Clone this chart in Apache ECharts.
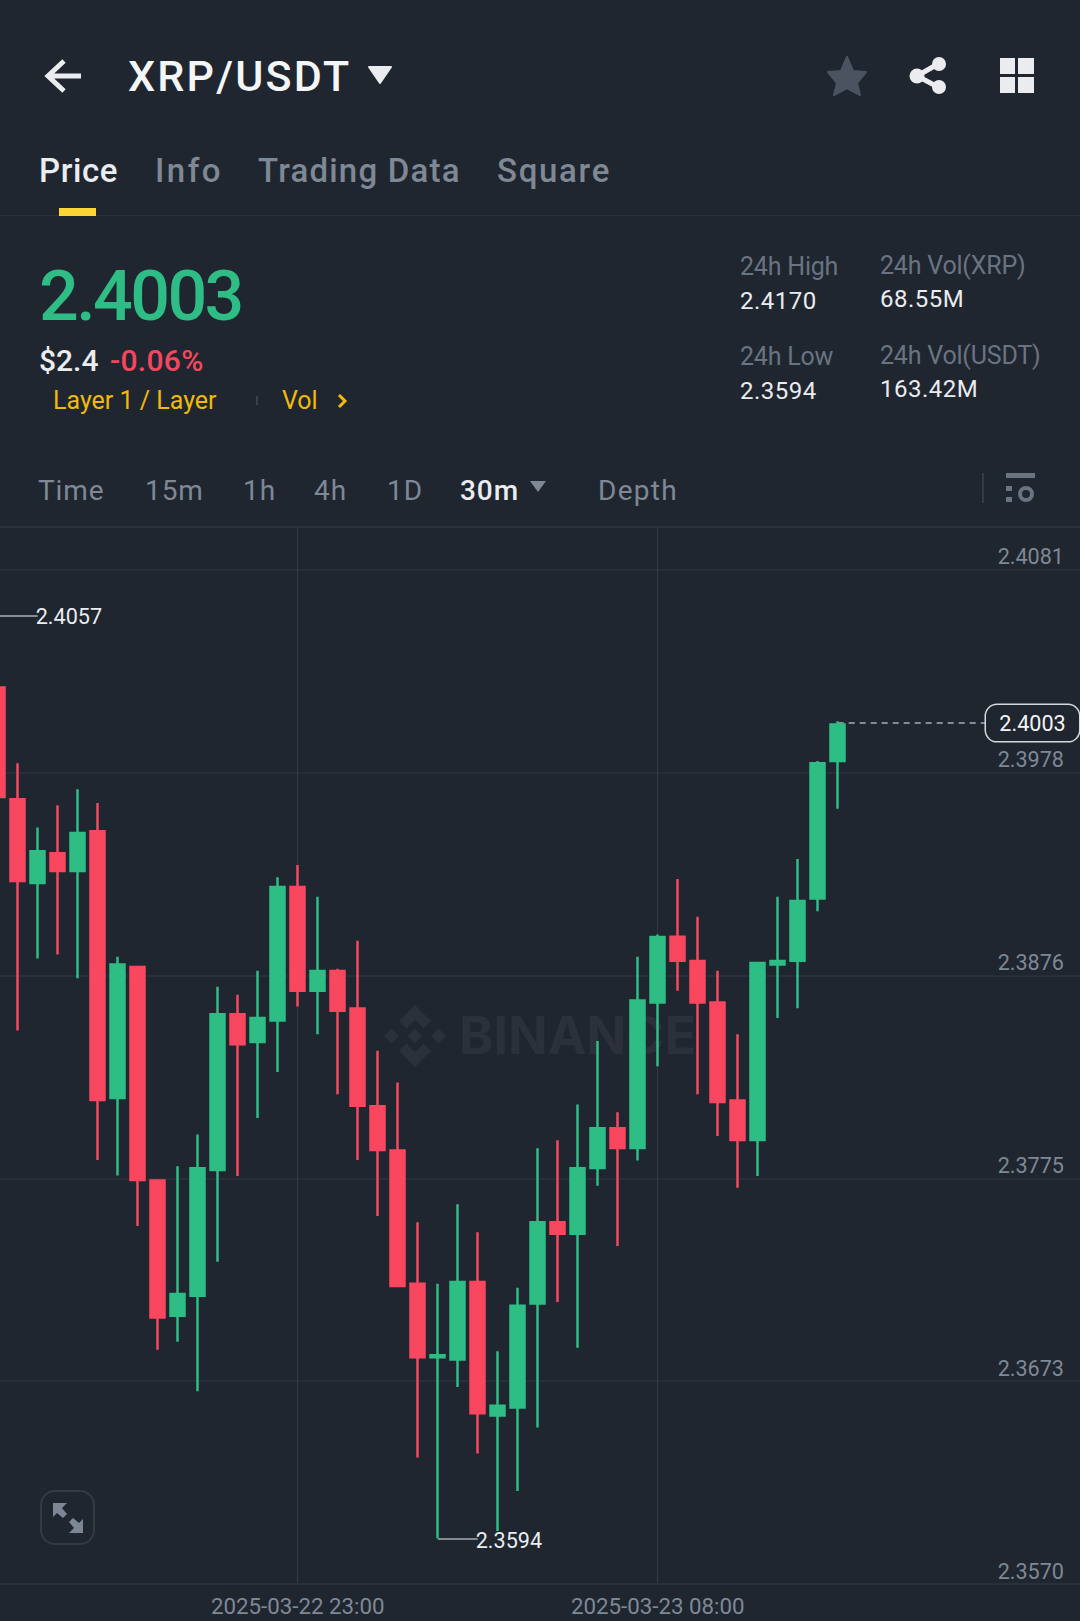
<!DOCTYPE html>
<html>
<head>
<meta charset="utf-8">
<title>XRP/USDT</title>
<script src="https://cdn.jsdelivr.net/npm/echarts@6/dist/echarts.min.js"></script>
<style>
    html, body { margin: 0; padding: 0; width: 1080px; height: 1621px; background: #1f2630; overflow: hidden; }
    body { position: relative; font-family: Roboto, sans-serif; }
    #chart { position: absolute; left: 0; top: 0; width: 1080px; height: 1621px; }
    .t { position: absolute; white-space: nowrap; line-height: 1; z-index: 2; }
    .tab { font-size: 33px; font-weight: 500; top: 154px; color: #7f8895; letter-spacing: 1.2px; }
    .stat { font-size: 25px; color: #6a7381; letter-spacing: -.2px; }
    .num { font-size: 24px; color: #eaecef; letter-spacing: .5px; }
    .iv { font-size: 28px; top: 477px; color: #7f8895; letter-spacing: .9px; }
    .line { position: absolute; left: 0; width: 1080px; background: #2b323c; z-index: 2; }
    svg.ic { position: absolute; z-index: 2; overflow: visible; }
</style>
</head>
<body>
<div id="chart"></div>

<!-- top bar -->
<svg class="ic" style="left:0;top:0" width="1" height="1">
    <path d="M81 76H50M64 61L48 76L64 91" fill="none" stroke="#eaecef" stroke-width="5"/>
    <path d="M369 67H391L380 83Z" fill="#eaecef" stroke="#eaecef" stroke-width="2" stroke-linejoin="round"/>
    <path d="M847 57L853 71L866 72L857 83L860 95L847 88L834 95L837 83L828 72L841 71Z" fill="#4b5361" stroke="#4b5361" stroke-linejoin="round" stroke-width="2"/>
    <path d="M938 64L917 76L938 87" fill="none" stroke="#eaecef" stroke-width="5"/>
    <circle cx="939" cy="64" r="7" fill="#eaecef"/><circle cx="917" cy="76" r="7.500" fill="#eaecef"/><circle cx="939" cy="87" r="7" fill="#eaecef"/>
    <path d="M1000 58h15v16h-15zM1018 58h16v16h-16zM1000 77h15v16h-15zM1018 77h16v16h-16z" fill="#eaecef"/>
    <path d="M530 481H546L538 492Z" fill="#7f8895"/>
    <path d="M1006 473h29v5h-29zM1006 486h6v5h-6zM1006 497h6v5h-6z" fill="#6a7381"/>
    <circle cx="1026" cy="494" r="6" fill="none" stroke="#6a7381" stroke-width="4"/>
    <path d="M983 473V503" stroke="#343b46" stroke-width="2"/>
    <path d="M257 396V405" stroke="#3a414c" stroke-width="2"/>
    <path d="M339 395L345 401L339 407" fill="none" stroke="#f0b90b" stroke-width="3"/>
    <rect x="41" y="1491" width="53" height="53" rx="14" fill="none" stroke="#333a46" stroke-width="2"/>
    <path d="M53 1503H67L62 1508L67 1514L63 1518L57 1513L53 1517ZM83 1533H69L74 1528L69 1522L73 1518L79 1523L83 1519Z" fill="#7d8694"/>
</svg>

<div class="t" style="left:128px;top:55px;font-size:43px;font-weight:500;color:#f4f5f6;letter-spacing:2.2px">XRP/USDT</div>
<div class="t tab" style="left:39px;color:#eaecef;letter-spacing:.6px">Price</div>
<div class="t tab" style="left:155px;letter-spacing:2.5px">Info</div>
<div class="t tab" style="left:258px">Trading Data</div>
<div class="t tab" style="left:497px;letter-spacing:1.7px">Square</div>
<div style="position:absolute;left:59px;top:208px;width:37px;height:8px;background:#fcd535;z-index:3"></div>
<div class="line" style="top:215px;height:1px"></div>

<div class="t" style="left:39px;top:261px;font-size:70px;font-weight:500;color:#2ebd85;letter-spacing:-2.6px">2.4003</div>
<div class="t" style="left:39px;top:346px;font-size:30px;font-weight:500;color:#eaecef">$2.4</div>
<div class="t" style="left:110px;top:346px;font-size:30px;font-weight:500;color:#f6465d;letter-spacing:.3px">-0.06%</div>
<div class="t" style="left:53px;top:388px;font-size:25px;color:#f0b90b">Layer 1 / Layer</div>
<div class="t" style="left:282px;top:388px;font-size:25px;color:#f0b90b">Vol</div>

<div class="t stat" style="left:740px;top:254px">24h High</div>
<div class="t num" style="left:740px;top:289px">2.4170</div>
<div class="t stat" style="left:880px;top:253px">24h Vol(XRP)</div>
<div class="t num" style="left:880px;top:287px">68.55M</div>
<div class="t stat" style="left:740px;top:344px">24h Low</div>
<div class="t num" style="left:740px;top:379px">2.3594</div>
<div class="t stat" style="left:880px;top:343px">24h Vol(USDT)</div>
<div class="t num" style="left:880px;top:377px">163.42M</div>

<div class="t iv" style="left:38px">Time</div>
<div class="t iv" style="left:145px">15m</div>
<div class="t iv" style="left:243px">1h</div>
<div class="t iv" style="left:314px">4h</div>
<div class="t iv" style="left:387px">1D</div>
<div class="t iv" style="left:460px;color:#eaecef;font-weight:500">30m</div>
<div class="t iv" style="left:598px;letter-spacing:1.3px">Depth</div>
<div class="line" style="top:526px;height:2px"></div>

<script type="text/javascript">
    // 30m candles, the trailing categories stay empty (room for the price labels)
    var categories = [
        "2025-03-22 15:30","2025-03-22 16:00","2025-03-22 16:30","2025-03-22 17:00","2025-03-22 17:30","2025-03-22 18:00","2025-03-22 18:30",
        "2025-03-22 19:00","2025-03-22 19:30","2025-03-22 20:00","2025-03-22 20:30","2025-03-22 21:00","2025-03-22 21:30","2025-03-22 22:00",
        "2025-03-22 22:30","2025-03-22 23:00","2025-03-22 23:30","2025-03-23 00:00","2025-03-23 00:30","2025-03-23 01:00","2025-03-23 01:30",
        "2025-03-23 02:00","2025-03-23 02:30","2025-03-23 03:00","2025-03-23 03:30","2025-03-23 04:00","2025-03-23 04:30","2025-03-23 05:00",
        "2025-03-23 05:30","2025-03-23 06:00","2025-03-23 06:30","2025-03-23 07:00","2025-03-23 07:30","2025-03-23 08:00","2025-03-23 08:30",
        "2025-03-23 09:00","2025-03-23 09:30","2025-03-23 10:00","2025-03-23 10:30","2025-03-23 11:00","2025-03-23 11:30","2025-03-23 12:00",
        "2025-03-23 12:30","2025-03-23 13:00","2025-03-23 13:30","2025-03-23 14:00","2025-03-23 14:30","2025-03-23 15:00","2025-03-23 15:30",
        "2025-03-23 16:00","2025-03-23 16:30","2025-03-23 17:00","2025-03-23 17:30","2025-03-23 18:00","2025-03-23 18:30","2025-03-23 19:00"
    ];
    var opens = [2.40217,2.39653,2.39232,2.39382,2.39292,2.39492,2.38148,2.38809,2.37733,2.37052,2.37152,2.37786,2.38570,2.38430,
        2.38539,2.39211,2.38689,2.38788,2.38599,2.38107,2.37884,2.37212,2.36842,2.36831,2.37222,2.36549,2.36589,2.37113,
        2.37523,2.37465,2.37796,2.37996,2.37897,2.38630,2.38961,2.38839,2.38630,2.38136,2.37937,2.38821,2.38840,2.39153,2.39846];
    var closes = [2.39665,2.39242,2.39391,2.39292,2.39483,2.38138,2.38821,2.37735,2.37042,2.37161,2.37794,2.38570,2.38419,2.38551,
        2.39211,2.38689,2.38788,2.38588,2.38109,2.37886,2.37201,2.36842,2.36852,2.37222,2.36560,2.36598,2.37102,2.37523,
        2.37464,2.37794,2.37996,2.37897,2.38639,2.38959,2.38840,2.38630,2.38128,2.37937,2.38829,2.38839,2.39141,2.39835,2.40030];
    var lows = [2.39600,2.38489,2.38851,2.38871,2.38752,2.37836,2.37758,2.37504,2.36880,2.36921,2.36671,2.37323,2.37756,2.38048,
        2.38279,2.38610,2.38469,2.38167,2.37836,2.37554,2.37201,2.36337,2.35930,2.36692,2.36358,2.35967,2.36169,2.36488,
        2.37121,2.36890,2.37706,2.37403,2.37834,2.38308,2.38689,2.38167,2.37957,2.37696,2.37755,2.38551,2.38601,2.39089,2.39606];
    var highs = [2.40250,2.39835,2.39511,2.39623,2.39704,2.39634,2.38860,2.38809,2.37733,2.37804,2.37965,2.38709,2.38669,2.38790,
        2.39261,2.39322,2.39162,2.38800,2.38941,2.38387,2.38227,2.37523,2.37212,2.37613,2.37472,2.36873,2.37193,2.37895,
        2.37935,2.38116,2.38436,2.38076,2.38860,2.38972,2.39252,2.39061,2.38790,2.38469,2.38829,2.39162,2.39353,2.39846,2.40046];
    var tickValues = [2.35700,2.36722,2.37744,2.38766,2.39788,2.40810];
    var tickLabels = ["2.3570","2.3673","2.3775","2.3876","2.3978","2.4081"];
    var timeLabels = ["2025-03-22 23:00","2025-03-23 08:00"];
    var lastPrice = 2.40037, highMark = 2.4058, lowMark = 2.3593;

    var UP = "#2ebd85", DOWN = "#f9475f", GRID = "#2b323c";

    function showTime(index, value) {
        return timeLabels.indexOf(value) > -1;
    }

    // binance logo + word behind the candles
    function logoPart(points, cx, cy, r) {
        return {
            type: "polygon", silent: true,
            shape: { points: points.map(function (p) { return [cx + p[0] * r, cy + p[1] * r]; }) },
            style: { fill: "#2b303b" }
        };
    }
    function diamond(x) {
        return [[x, -.24], [x + .24, 0], [x, .24], [x - .24, 0]];
    }
    var wm = [
        logoPart(diamond(0), 415, 1036, 31),
        logoPart(diamond(-.76), 415, 1036, 31),
        logoPart(diamond(.76), 415, 1036, 31),
        logoPart([[0, -1], [.52, -.48], [.28, -.24], [0, -.52], [-.28, -.24], [-.52, -.48]], 415, 1036, 31),
        logoPart([[0, 1], [.52, .48], [.28, .24], [0, .52], [-.28, .24], [-.52, .48]], 415, 1036, 31),
        {
            type: "text", silent: true, left: 459, top: 1009,
            style: { text: "BINANCE", fill: "#2b303b", font: "700 52px Inter" }
        }
    ];

    var myChart = echarts.init(document.getElementById("chart"), null, { renderer: "svg" });
    var option = {
        animation: false,
        backgroundColor: "#1f2630",
        graphic: { elements: wm },
        grid: { left: -2.3, top: 528, width: 1100, height: 1056, outerBoundsMode: "none" },
        xAxis: {
            type: "category",
            data: categories,
            boundaryGap: false,
            axisLine: { lineStyle: { color: GRID, width: 1.5 } },
            axisTick: { show: false },
            axisLabel: { interval: showTime, color: "#7f8895", fontFamily: "Roboto", fontSize: 22.3, margin: 11 },
            splitLine: { show: true, interval: showTime, lineStyle: { color: "#333a45", width: 1 } }
        },
        yAxis: {
            type: "value",
            position: "right",
            min: 2.357,
            max: 2.4102,
            axisLine: { show: false },
            axisTick: { show: false, customValues: tickValues },
            axisLabel: {
                inside: true,
                customValues: tickValues,
                margin: 33.7,
                verticalAlign: "bottom",
                padding: [0, 0, 2, 0],
                color: "#7f8895",
                fontFamily: "Roboto",
                fontSize: 21.6,
                formatter: function (v) {
                    return tickLabels[tickValues.indexOf(v)];
                }
            },
            splitLine: { show: true, lineStyle: { color: GRID, width: 1.5 } }
        },
        series: [{
            type: "candlestick",
            clip: false,
            barWidth: 14.9,
            data: opens.map(function (o, i) {
                return [o, closes[i], lows[i], highs[i]];
            }),
            itemStyle: { color: UP, color0: DOWN, borderColor: UP, borderColor0: DOWN, borderWidth: 2.5 },
            markLine: {
                silent: true,
                z: 1,
                symbol: ["none", "none"],
                data: [
                    [{
                        coord: [categories[0], highMark],
                        lineStyle: { color: "#a7adb5", width: 1.5, type: "solid" },
                        label: { position: "end", distance: -2, offset: [0, 1], formatter: "2.4057", color: "#eaecef", fontFamily: "Roboto", fontSize: 21.6 }
                    }, { coord: [categories[2], highMark] }],
                    [{
                        coord: [categories[22], lowMark],
                        lineStyle: { color: "#a7adb5", width: 1.5, type: "solid" },
                        label: { position: "end", distance: -2, offset: [0, 2], formatter: "2.3594", color: "#eaecef", fontFamily: "Roboto", fontSize: 21.6 }
                    }, { coord: [categories[24], lowMark] }],
                    [{
                        coord: [categories[42], lastPrice],
                        lineStyle: { color: "#a7adb5", width: 1.5, type: [6, 5] },
                        label: {
                            position: "end", distance: -5.2, formatter: "2.4003", color: "#f4f5f6",
                            fontFamily: "Roboto", fontSize: 21.6, width: 93, height: 36,
                            align: "center", lineHeight: 40, backgroundColor: "#1f2630",
                            borderColor: "#d5d8dc", borderWidth: 1.5, borderRadius: 11
                        }
                    }, { coord: [categories[52], lastPrice] }]
                ]
            }
        }]
    };
    myChart.setOption(option);
</script>
</body>
</html>
